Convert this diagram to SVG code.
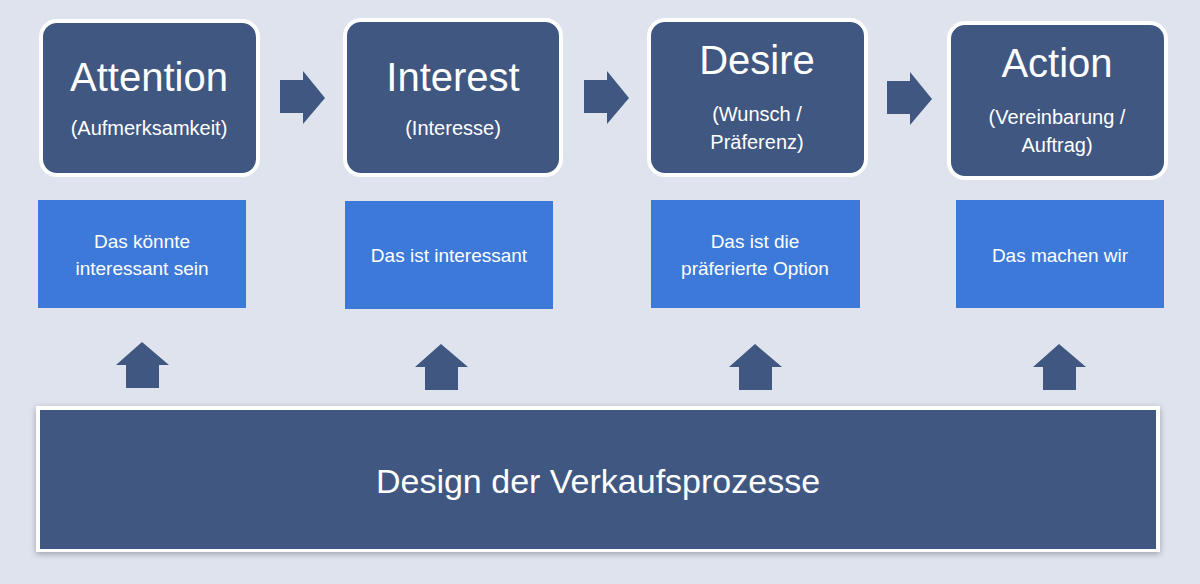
<svg xmlns="http://www.w3.org/2000/svg" width="1200" height="584" viewBox="0 0 1200 584">
<defs>
<style>
.top{fill:#3F5781;stroke:#fff;stroke-width:4}
.blue{fill:#3D79D9}
.ar{fill:#3F5781}
text{font-family:"Liberation Sans",Arial,sans-serif;fill:#fff;text-anchor:middle}
.h{font-size:40px}.s{font-size:20px}.b{font-size:19px}
</style>
<filter id="sh" x="-5%" y="-10%" width="110%" height="130%"><feDropShadow dx="0" dy="2" stdDeviation="3" flood-color="#000" flood-opacity="0.3"/></filter>
<path id="ra" d="M0 10H23V1L45 28L23 54V43H0Z"/>
<path id="ua" d="M0 23L26 0L53 23H43V46H10V23Z"/>
</defs>
<rect width="1200" height="584" fill="#DEE3EE"/>
<g id="n1"><rect class="top" x="41" y="21" width="217" height="154" rx="16"/><text class="h" x="149" y="91">Attention</text><text class="s" x="149" y="135">(Aufmerksamkeit)</text></g>
<g id="n2"><rect class="top" x="345" y="20" width="216" height="155" rx="16"/><text class="h" x="453" y="91">Interest</text><text class="s" x="453" y="135">(Interesse)</text></g>
<g id="n3"><rect class="top" x="649" y="20" width="217" height="155" rx="16"/><text class="h" x="757" y="74">Desire</text><text class="s" x="757" y="121">(Wunsch /</text><text class="s" x="757" y="149">Präferenz)</text></g>
<g id="n4"><rect class="top" x="949" y="23" width="217" height="155" rx="16"/><text class="h" x="1057" y="77">Action</text><text class="s" x="1057" y="124">(Vereinbarung /</text><text class="s" x="1057" y="152">Auftrag)</text></g>
<g id="b1"><rect class="blue" x="38" y="200" width="208" height="108"/><text class="b" x="142" y="248">Das könnte</text><text class="b" x="142" y="275">interessant sein</text></g>
<g id="b2"><rect class="blue" x="345" y="201" width="208" height="108"/><text class="b" x="449" y="262">Das ist interessant</text></g>
<g id="b3"><rect class="blue" x="651" y="200" width="209" height="108"/><text class="b" x="755" y="248">Das ist die</text><text class="b" x="755" y="275">präferierte Option</text></g>
<g id="b4"><rect class="blue" x="956" y="200" width="208" height="108"/><text class="b" x="1060" y="262">Das machen wir</text></g>
<g id="base"><rect x="36" y="406" width="1124" height="146" fill="#fff" filter="url(#sh)"/><rect x="40" y="410" width="1116" height="139" fill="#3F5781"/><text x="598" y="493" font-size="34">Design der Verkaufsprozesse</text></g>
<g id="connectors" class="ar">
<use href="#ra" x="280" y="70"/><use href="#ra" x="584" y="70"/><use href="#ra" x="887" y="71"/>
<use href="#ua" x="116" y="342"/><use href="#ua" x="415" y="344"/><use href="#ua" x="729" y="344"/><use href="#ua" x="1033" y="344"/>
</g>
</svg>
